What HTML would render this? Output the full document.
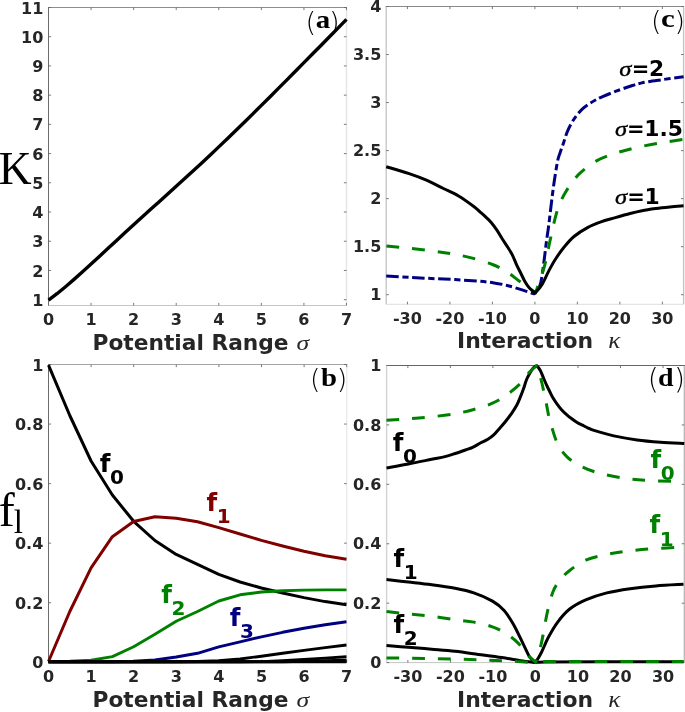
<!DOCTYPE html>
<html><head><meta charset="utf-8"><title>Figure</title>
<style>
html,body{margin:0;padding:0;background:#fff;width:685px;height:712px;overflow:hidden}
svg{display:block}
.t{font-family:'DejaVu Sans', 'Liberation Sans', sans-serif;font-weight:bold;font-size:15.5px;fill:#262626}
.xl{font-family:'DejaVu Sans', 'Liberation Sans', sans-serif;font-weight:bold;font-size:21px;fill:#262626}
.sv{font-family:'Liberation Serif', 'DejaVu Serif', serif;font-style:italic}
.lab{font-family:'DejaVu Sans', 'Liberation Sans', sans-serif;font-weight:bold}
.pl{font-family:'Liberation Serif', 'DejaVu Serif', serif;fill:#000}
.par{font-family:'DejaVu Sans',sans-serif;font-weight:200;fill:#000}
</style></head><body>
<svg width="685" height="712" viewBox="0 0 685 712">
<rect width="685" height="712" fill="#fff"/>
<path d="M48.5 305.5H346.5" stroke="#c5c5c5" stroke-width="1.2" fill="none"/>
<path d="M346.5 7.5V305.5" stroke="#e4e4e4" stroke-width="1.4" fill="none"/>
<path d="M48 7.5H347" stroke="#8e8e8e" stroke-width="1" fill="none"/>
<path d="M48.5 7.5V305.5" stroke="#6b6b6b" stroke-width="1" fill="none"/>
<path d="M48.5 7.5v2.6 M48.5 305.5v-2.6 M91.07 7.5v2.6 M91.07 305.5v-2.6 M133.64 7.5v2.6 M133.64 305.5v-2.6 M176.21 7.5v2.6 M176.21 305.5v-2.6 M218.79 7.5v2.6 M218.79 305.5v-2.6 M261.36 7.5v2.6 M261.36 305.5v-2.6 M303.93 7.5v2.6 M303.93 305.5v-2.6 M346.5 7.5v2.6 M346.5 305.5v-2.6 M48.5 299.66h2.6 M346.5 299.66h-2.6 M48.5 270.44h2.6 M346.5 270.44h-2.6 M48.5 241.23h2.6 M346.5 241.23h-2.6 M48.5 212.01h2.6 M346.5 212.01h-2.6 M48.5 182.79h2.6 M346.5 182.79h-2.6 M48.5 153.58h2.6 M346.5 153.58h-2.6 M48.5 124.36h2.6 M346.5 124.36h-2.6 M48.5 95.15h2.6 M346.5 95.15h-2.6 M48.5 65.93h2.6 M346.5 65.93h-2.6 M48.5 36.72h2.6 M346.5 36.72h-2.6 M48.5 7.5h2.6 M346.5 7.5h-2.6 " stroke="#6a6a6a" stroke-width="0.9" fill="none"/>
<text transform="translate(48.5 325) scale(1.035 1)" text-anchor="middle" class="t">0</text>
<text transform="translate(91.07 325) scale(1.035 1)" text-anchor="middle" class="t">1</text>
<text transform="translate(133.64 325) scale(1.035 1)" text-anchor="middle" class="t">2</text>
<text transform="translate(176.21 325) scale(1.035 1)" text-anchor="middle" class="t">3</text>
<text transform="translate(218.79 325) scale(1.035 1)" text-anchor="middle" class="t">4</text>
<text transform="translate(261.36 325) scale(1.035 1)" text-anchor="middle" class="t">5</text>
<text transform="translate(303.93 325) scale(1.035 1)" text-anchor="middle" class="t">6</text>
<text transform="translate(346.5 325) scale(1.035 1)" text-anchor="middle" class="t">7</text>
<text transform="translate(43.3 305.76) scale(1.035 1)" text-anchor="end" class="t">1</text>
<text transform="translate(43.3 276.54) scale(1.035 1)" text-anchor="end" class="t">2</text>
<text transform="translate(43.3 247.33) scale(1.035 1)" text-anchor="end" class="t">3</text>
<text transform="translate(43.3 218.11) scale(1.035 1)" text-anchor="end" class="t">4</text>
<text transform="translate(43.3 188.89) scale(1.035 1)" text-anchor="end" class="t">5</text>
<text transform="translate(43.3 159.68) scale(1.035 1)" text-anchor="end" class="t">6</text>
<text transform="translate(43.3 130.46) scale(1.035 1)" text-anchor="end" class="t">7</text>
<text transform="translate(43.3 101.25) scale(1.035 1)" text-anchor="end" class="t">8</text>
<text transform="translate(43.3 72.03) scale(1.035 1)" text-anchor="end" class="t">9</text>
<text transform="translate(43.3 42.82) scale(1.035 1)" text-anchor="end" class="t">10</text>
<text transform="translate(43.3 13.6) scale(1.035 1)" text-anchor="end" class="t">11</text>
<path d="M48.5 300.17 L57.01 293.72 L65.53 286.69 L74.04 279.35 L82.56 271.77 L91.07 264.03 L99.59 256.19 L108.1 248.3 L116.61 240.41 L125.13 232.55 L133.64 224.76 L142.16 217.03 L150.67 209.32 L159.19 201.64 L167.7 193.96 L176.21 186.26 L184.73 178.52 L193.24 170.73 L201.76 162.88 L210.27 154.93 L218.79 146.88 L227.3 138.74 L235.81 130.51 L244.33 122.21 L252.84 113.84 L261.36 105.41 L269.87 96.93 L278.39 88.41 L286.9 79.85 L295.41 71.27 L303.93 62.67 L312.44 54.05 L320.96 45.43 L329.47 36.8 L337.99 28.16 L346.5 19.32" stroke="#000" stroke-width="3.4" fill="none" stroke-linejoin="round"/>
<text x="305.51" y="31.39" class="par" font-size="27.37">(</text>
<text x="328.94" y="31.39" class="par" font-size="27.37">)</text>
<text x="315.87" y="27.9" class="pl" font-weight="bold" font-size="25" textLength="14.47" lengthAdjust="spacingAndGlyphs">a</text>
<text x="-1.2" y="183.8" font-family="'Liberation Serif', 'DejaVu Serif', serif" font-size="45.5" fill="#000">K</text>
<text x="92.51" y="350.1" class="xl" textLength="196.05" lengthAdjust="spacingAndGlyphs">Potential Range</text>
<text x="296.6" y="350.1" class="sv" font-size="21" textLength="12.6" lengthAdjust="spacingAndGlyphs" fill="#262626">σ</text>
<path d="M48.5 662.3H346.7" stroke="#c5c5c5" stroke-width="1" fill="none"/>
<path d="M346.7 364.5V662.3" stroke="#ebebeb" stroke-width="1.4" fill="none"/>
<path d="M48 364.5H347.2" stroke="#a5a5a5" stroke-width="1" fill="none"/>
<path d="M48.5 364.5V662.3" stroke="#6b6b6b" stroke-width="1" fill="none"/>
<path d="M48.5 364.5v2.6 M48.5 662.3v-2.6 M91.1 364.5v2.6 M91.1 662.3v-2.6 M133.7 364.5v2.6 M133.7 662.3v-2.6 M176.3 364.5v2.6 M176.3 662.3v-2.6 M218.9 364.5v2.6 M218.9 662.3v-2.6 M261.5 364.5v2.6 M261.5 662.3v-2.6 M304.1 364.5v2.6 M304.1 662.3v-2.6 M346.7 364.5v2.6 M346.7 662.3v-2.6 M48.5 662.3h2.6 M346.7 662.3h-2.6 M48.5 602.74h2.6 M346.7 602.74h-2.6 M48.5 543.18h2.6 M346.7 543.18h-2.6 M48.5 483.62h2.6 M346.7 483.62h-2.6 M48.5 424.06h2.6 M346.7 424.06h-2.6 M48.5 364.5h2.6 M346.7 364.5h-2.6 " stroke="#6a6a6a" stroke-width="0.9" fill="none"/>
<text transform="translate(48.5 682) scale(1.035 1)" text-anchor="middle" class="t">0</text>
<text transform="translate(91.1 682) scale(1.035 1)" text-anchor="middle" class="t">1</text>
<text transform="translate(133.7 682) scale(1.035 1)" text-anchor="middle" class="t">2</text>
<text transform="translate(176.3 682) scale(1.035 1)" text-anchor="middle" class="t">3</text>
<text transform="translate(218.9 682) scale(1.035 1)" text-anchor="middle" class="t">4</text>
<text transform="translate(261.5 682) scale(1.035 1)" text-anchor="middle" class="t">5</text>
<text transform="translate(304.1 682) scale(1.035 1)" text-anchor="middle" class="t">6</text>
<text transform="translate(346.7 682) scale(1.035 1)" text-anchor="middle" class="t">7</text>
<text transform="translate(43.3 668.4) scale(1.035 1)" text-anchor="end" class="t">0</text>
<text transform="translate(43.3 608.84) scale(1.035 1)" text-anchor="end" class="t">0.2</text>
<text transform="translate(43.3 549.28) scale(1.035 1)" text-anchor="end" class="t">0.4</text>
<text transform="translate(43.3 489.72) scale(1.035 1)" text-anchor="end" class="t">0.6</text>
<text transform="translate(43.3 430.16) scale(1.035 1)" text-anchor="end" class="t">0.8</text>
<text transform="translate(43.3 370.6) scale(1.035 1)" text-anchor="end" class="t">1</text>
<path d="M48.5 365.1 L69.79 415.5 L91.07 461 L112.36 495 L133.64 521.3 L154.93 540.5 L176.21 554.4 L197.5 564.3 L218.79 574.4 L240.07 582 L261.36 588 L282.64 593 L303.93 597.6 L325.21 601.6 L346.5 604.8" stroke="#000" stroke-width="3" fill="none" stroke-linejoin="round"/>
<path d="M48.5 661.5 L69.79 611.5 L91.07 567.8 L112.36 536.7 L133.64 521.5 L154.93 516.8 L176.21 518.3 L197.5 521.8 L218.79 527.6 L240.07 534 L261.36 540.4 L282.64 546 L303.93 551.2 L325.21 555.8 L346.5 559.3" stroke="#800000" stroke-width="3" fill="none" stroke-linejoin="round"/>
<path d="M48.5 661.6 L69.79 661.3 L91.07 660.2 L112.36 656.6 L133.64 646.8 L154.93 634.3 L176.21 621.3 L197.5 611.5 L218.79 601 L240.07 594.8 L261.36 592 L282.64 590.7 L303.93 590.1 L325.21 589.9 L346.5 589.9" stroke="#008000" stroke-width="2.9" fill="none" stroke-linejoin="round"/>
<path d="M48.5 661.8 L69.79 661.8 L91.07 661.8 L112.36 661.8 L133.64 661.2 L154.93 660 L176.21 657 L197.5 653.3 L218.79 646.8 L240.07 641.8 L261.36 636.8 L282.64 632.3 L303.93 628.3 L325.21 624.8 L346.5 621.8" stroke="#000080" stroke-width="2.9" fill="none" stroke-linejoin="round"/>
<path d="M48.5 661.8 L69.79 661.8 L91.07 661.8 L112.36 661.8 L133.64 661.8 L154.93 661.8 L176.21 661.8 L197.5 661.5 L218.79 660.8 L240.07 659 L261.36 656.2 L282.64 653.2 L303.93 650.4 L325.21 647.6 L346.5 645" stroke="#000" stroke-width="2.9" fill="none" stroke-linejoin="round"/>
<path d="M48.5 661.8 L69.79 661.8 L91.07 661.8 L112.36 661.8 L133.64 661.8 L154.93 661.8 L176.21 661.8 L197.5 661.8 L218.79 661.8 L240.07 661.8 L261.36 661.6 L282.64 660.6 L303.93 659.4 L325.21 658.1 L346.5 656.8" stroke="#000" stroke-width="2.9" fill="none" stroke-linejoin="round"/>
<path d="M48.5 661.8 L69.79 661.8 L91.07 661.8 L112.36 661.8 L133.64 661.8 L154.93 661.8 L176.21 661.8 L197.5 661.8 L218.79 661.8 L240.07 661.8 L261.36 661.8 L282.64 661.7 L303.93 661.3 L325.21 660.8 L346.5 660.2" stroke="#000" stroke-width="2.9" fill="none" stroke-linejoin="round"/>
<path d="M48.5 661.9 L69.79 661.9 L91.07 661.9 L112.36 661.9 L133.64 661.9 L154.93 661.9 L176.21 661.9 L197.5 661.9 L218.79 661.9 L240.07 661.9 L261.36 661.9 L282.64 661.9 L303.93 661.9 L325.21 661.9 L346.5 661.9" stroke="#000" stroke-width="2.9" fill="none" stroke-linejoin="round"/>
<text x="309.96" y="388.35" class="par" font-size="26.92">(</text>
<text x="336.67" y="388.35" class="par" font-size="26.92">)</text>
<text x="321.03" y="386" class="pl" font-weight="bold" font-size="24.5" textLength="16.03" lengthAdjust="spacingAndGlyphs">b</text>
<text x="99.7" y="471.6" class="lab" fill="#000" font-size="24.5">f<tspan font-size="20" dx="-0.4" dy="12.2">0</tspan></text>
<text x="206.4" y="510.8" class="lab" fill="#800000" font-size="24.5">f<tspan font-size="20" dx="-0.4" dy="12.2">1</tspan></text>
<text x="161.3" y="603" class="lab" fill="#008000" font-size="24.5">f<tspan font-size="20" dx="-0.4" dy="12.2">2</tspan></text>
<text x="229.8" y="625.5" class="lab" fill="#000080" font-size="24.5">f<tspan font-size="20" dx="-0.4" dy="12.2">3</tspan></text>
<text x="-1.2" y="525.7" font-family="'Liberation Serif', 'DejaVu Serif', serif" font-size="48" fill="#000">f<tspan font-size="33" dx="-1" dy="7.3">l</tspan></text>
<text x="92.51" y="706.7" class="xl" textLength="196.05" lengthAdjust="spacingAndGlyphs">Potential Range</text>
<text x="296.6" y="706.7" class="sv" font-size="21" textLength="12.6" lengthAdjust="spacingAndGlyphs" fill="#262626">σ</text>
<path d="M386.2 304.3H683.6" stroke="#e4e4e4" stroke-width="1.2" fill="none"/>
<path d="M683.6 6.5V304.3" stroke="#c5c5c5" stroke-width="1.4" fill="none"/>
<path d="M385.7 6.5H684.1" stroke="#8a8a8a" stroke-width="1" fill="none"/>
<path d="M386.2 6.5V304.3" stroke="#c8c8c8" stroke-width="1.4" fill="none"/>
<path d="M407.44 6.5v2.6 M407.44 304.3v-2.6 M449.93 6.5v2.6 M449.93 304.3v-2.6 M492.41 6.5v2.6 M492.41 304.3v-2.6 M534.9 6.5v2.6 M534.9 304.3v-2.6 M577.39 6.5v2.6 M577.39 304.3v-2.6 M619.87 6.5v2.6 M619.87 304.3v-2.6 M662.36 6.5v2.6 M662.36 304.3v-2.6 M386.2 294.69h2.6 M683.6 294.69h-2.6 M386.2 246.66h2.6 M683.6 246.66h-2.6 M386.2 198.63h2.6 M683.6 198.63h-2.6 M386.2 150.6h2.6 M683.6 150.6h-2.6 M386.2 102.56h2.6 M683.6 102.56h-2.6 M386.2 54.53h2.6 M683.6 54.53h-2.6 M386.2 6.5h2.6 M683.6 6.5h-2.6 " stroke="#6a6a6a" stroke-width="0.9" fill="none"/>
<text transform="translate(407.44 324) scale(1.035 1)" text-anchor="middle" class="t">-30</text>
<text transform="translate(449.93 324) scale(1.035 1)" text-anchor="middle" class="t">-20</text>
<text transform="translate(492.41 324) scale(1.035 1)" text-anchor="middle" class="t">-10</text>
<text transform="translate(534.9 324) scale(1.035 1)" text-anchor="middle" class="t">0</text>
<text transform="translate(577.39 324) scale(1.035 1)" text-anchor="middle" class="t">10</text>
<text transform="translate(619.87 324) scale(1.035 1)" text-anchor="middle" class="t">20</text>
<text transform="translate(662.36 324) scale(1.035 1)" text-anchor="middle" class="t">30</text>
<text transform="translate(381.3 300.29) scale(1.035 1)" text-anchor="end" class="t">1</text>
<text transform="translate(381.3 252.26) scale(1.035 1)" text-anchor="end" class="t">1.5</text>
<text transform="translate(381.3 204.23) scale(1.035 1)" text-anchor="end" class="t">2</text>
<text transform="translate(381.3 156.2) scale(1.035 1)" text-anchor="end" class="t">2.5</text>
<text transform="translate(381.3 108.16) scale(1.035 1)" text-anchor="end" class="t">3</text>
<text transform="translate(381.3 60.13) scale(1.035 1)" text-anchor="end" class="t">3.5</text>
<text transform="translate(381.3 12.1) scale(1.035 1)" text-anchor="end" class="t">4</text>
<path d="M386.2 276.1 C389.9 276.3 400.82 276.9 408.4 277.3 C415.98 277.7 423.92 278.12 431.7 278.5 C439.48 278.88 447.32 279.15 455.1 279.6 C462.88 280.05 471.92 280.65 478.4 281.2 C484.88 281.75 489.05 282.15 494 282.9 C498.95 283.65 503.42 284.53 508.1 285.7 C512.78 286.87 517.78 288.55 522.1 289.9 C526.42 291.25 532.02 293.15 534 293.8 L534 293.8 C535.03 292.27 538.6 289.52 540.2 284.6 C541.8 279.68 542.62 271.05 543.6 264.3 C544.58 257.55 545.25 250.57 546.1 244.1 C546.95 237.63 547.82 232.35 548.7 225.5 C549.58 218.65 550.52 210.08 551.4 203 C552.28 195.92 552.97 190 554 183 C555.03 176 556.57 166.08 557.6 161 C558.63 155.92 559.22 155.5 560.2 152.5 C561.18 149.5 562.37 146.33 563.5 143 C564.63 139.67 565.72 135.73 567 132.5 C568.28 129.27 569.57 126.48 571.2 123.6 C572.83 120.72 574.92 117.67 576.8 115.2 C578.68 112.73 580.62 110.58 582.5 108.8 C584.38 107.02 586 105.92 588.1 104.5 C590.2 103.08 592.77 101.58 595.1 100.3 C597.43 99.02 598.6 98.32 602.1 96.8 C605.6 95.28 611.42 92.97 616.1 91.2 C620.78 89.43 625.92 87.58 630.2 86.2 C634.48 84.82 636.75 83.95 641.8 82.9 C646.85 81.85 653.53 80.92 660.5 79.9 C667.47 78.88 679.75 77.32 683.6 76.8" stroke="#000080" stroke-width="3" fill="none" stroke-linejoin="round" stroke-dasharray="12.5 3.6 6.3 3.6" stroke-dashoffset="0"/>
<path d="M386.5 246 C390.15 246.35 400.87 247.28 408.4 248.1 C415.93 248.92 424.7 250 431.7 250.9 C438.7 251.8 443.78 252.33 450.4 253.5 C457.02 254.67 464.38 256.07 471.4 257.9 C478.42 259.73 486.65 262.23 492.5 264.5 C498.35 266.77 501.83 268.58 506.5 271.5 C511.17 274.42 515.65 278.45 520.5 282 C525.35 285.55 533.08 291 535.6 292.8 L535.6 292.8 C537.08 288.33 542.18 274.27 544.5 266 C546.82 257.73 547.68 251.35 549.5 243.2 C551.32 235.05 553.57 223.97 555.4 217.1 C557.23 210.23 558.73 206.27 560.5 202 C562.27 197.73 564.08 194.75 566 191.5 C567.92 188.25 569.48 185.73 572 182.5 C574.52 179.27 576.87 175.78 581.1 172.1 C585.33 168.42 591.18 163.7 597.4 160.4 C603.62 157.1 611 154.63 618.4 152.3 C625.8 149.97 634 148.08 641.8 146.4 C649.6 144.72 658.25 143.37 665.2 142.2 C672.15 141.03 680.45 139.87 683.5 139.4" stroke="#008000" stroke-width="3" fill="none" stroke-linejoin="round" stroke-dasharray="12.7 13" stroke-dashoffset="0"/>
<path d="M386.2 166.7 C389.9 167.82 401.6 171.12 408.4 173.4 C415.2 175.68 421.17 177.88 427 180.4 C432.83 182.92 438.13 185.9 443.4 188.5 C448.67 191.1 453.53 193 458.6 196 C463.67 199 470.23 203.85 473.8 206.5 C477.37 209.15 478.03 210.17 480 211.9 C481.97 213.63 483.73 215.13 485.6 216.9 C487.47 218.67 489.32 220.28 491.2 222.5 C493.08 224.72 495.02 227.4 496.9 230.2 C498.78 233 500.63 236.37 502.5 239.3 C504.37 242.23 506.47 245.22 508.1 247.8 C509.73 250.38 510.9 252 512.3 254.8 C513.7 257.6 515.1 261.57 516.5 264.6 C517.9 267.63 519.3 270.18 520.7 273 C522.1 275.82 523.48 279.03 524.9 281.5 C526.32 283.97 527.52 285.88 529.2 287.8 C530.88 289.72 534.03 292.13 535 293 L535.2 293 C536.32 291.6 539.65 288.25 541.9 284.6 C544.15 280.95 546.45 275.32 548.7 271.1 C550.95 266.88 552.88 263.23 555.4 259.3 C557.92 255.37 560.7 251.3 563.8 247.5 C566.9 243.7 570.05 239.82 574 236.5 C577.95 233.18 583.02 230.03 587.5 227.6 C591.98 225.17 596.42 223.52 600.9 221.9 C605.38 220.28 609.53 219.3 614.4 217.9 C619.27 216.5 625.5 214.7 630.1 213.5 C634.7 212.3 637.72 211.52 642 210.7 C646.28 209.88 651.13 209.22 655.8 208.6 C660.47 207.98 665.37 207.47 670 207 C674.63 206.53 681.33 206 683.6 205.8" stroke="#000" stroke-width="3" fill="none" stroke-linejoin="round"/>
<text x="650.94" y="29.84" class="par" font-size="27.03">(</text>
<text x="674.44" y="29.84" class="par" font-size="27.03">)</text>
<text x="661.04" y="27.4" class="pl" font-weight="bold" font-size="25" textLength="13.73" lengthAdjust="spacingAndGlyphs">c</text>
<text x="619.17" y="76" class="sv" fill="#000" font-size="20.5" textLength="12.15" lengthAdjust="spacingAndGlyphs" stroke="#000" stroke-width="0.35">σ</text>
<text x="631.77" y="76" class="lab" fill="#000" font-size="21">=</text>
<text x="648.97" y="76" class="lab" fill="#000" font-size="21" textLength="15.2" lengthAdjust="spacingAndGlyphs">2</text>
<text x="614.97" y="135.6" class="sv" fill="#000" font-size="20.5" textLength="12.15" lengthAdjust="spacingAndGlyphs" stroke="#000" stroke-width="0.35">σ</text>
<text x="627.07" y="135.6" class="lab" fill="#000" font-size="21">=</text>
<text x="644.24" y="135.6" class="lab" fill="#000" font-size="21" textLength="38.69" lengthAdjust="spacingAndGlyphs">1.5</text>
<text x="615.07" y="203.5" class="sv" fill="#000" font-size="20.5" textLength="12.15" lengthAdjust="spacingAndGlyphs" stroke="#000" stroke-width="0.35">σ</text>
<text x="627.27" y="203.5" class="lab" fill="#000" font-size="21">=</text>
<text x="644.44" y="203.5" class="lab" fill="#000" font-size="21" textLength="15.2" lengthAdjust="spacingAndGlyphs">1</text>
<text x="456.99" y="348.2" class="xl" textLength="136.22" lengthAdjust="spacingAndGlyphs">Interaction</text>
<text x="608.2" y="348.2" class="sv" font-size="23" textLength="12.2" lengthAdjust="spacingAndGlyphs" fill="#262626">κ</text>
<path d="M386.6 662.6H684.3" stroke="#c5c5c5" stroke-width="1" fill="none"/>
<path d="M684.3 365.5V662.6" stroke="#b0b0b0" stroke-width="1.2" fill="none"/>
<path d="M386.1 365.5H684.8" stroke="#666666" stroke-width="1" fill="none"/>
<path d="M386.6 365.5V662.6" stroke="#d2d2d2" stroke-width="1.4" fill="none"/>
<path d="M407.86 365.5v2.6 M407.86 662.6v-2.6 M450.39 365.5v2.6 M450.39 662.6v-2.6 M492.92 365.5v2.6 M492.92 662.6v-2.6 M535.45 365.5v2.6 M535.45 662.6v-2.6 M577.98 365.5v2.6 M577.98 662.6v-2.6 M620.51 365.5v2.6 M620.51 662.6v-2.6 M663.04 365.5v2.6 M663.04 662.6v-2.6 M386.6 662.6h2.6 M684.3 662.6h-2.6 M386.6 603.18h2.6 M684.3 603.18h-2.6 M386.6 543.76h2.6 M684.3 543.76h-2.6 M386.6 484.34h2.6 M684.3 484.34h-2.6 M386.6 424.92h2.6 M684.3 424.92h-2.6 M386.6 365.5h2.6 M684.3 365.5h-2.6 " stroke="#6a6a6a" stroke-width="0.9" fill="none"/>
<text transform="translate(407.86 682) scale(1.035 1)" text-anchor="middle" class="t">-30</text>
<text transform="translate(450.39 682) scale(1.035 1)" text-anchor="middle" class="t">-20</text>
<text transform="translate(492.92 682) scale(1.035 1)" text-anchor="middle" class="t">-10</text>
<text transform="translate(535.45 682) scale(1.035 1)" text-anchor="middle" class="t">0</text>
<text transform="translate(577.98 682) scale(1.035 1)" text-anchor="middle" class="t">10</text>
<text transform="translate(620.51 682) scale(1.035 1)" text-anchor="middle" class="t">20</text>
<text transform="translate(663.04 682) scale(1.035 1)" text-anchor="middle" class="t">30</text>
<text transform="translate(381.3 668.2) scale(1.035 1)" text-anchor="end" class="t">0</text>
<text transform="translate(381.3 608.78) scale(1.035 1)" text-anchor="end" class="t">0.2</text>
<text transform="translate(381.3 549.36) scale(1.035 1)" text-anchor="end" class="t">0.4</text>
<text transform="translate(381.3 489.94) scale(1.035 1)" text-anchor="end" class="t">0.6</text>
<text transform="translate(381.3 430.52) scale(1.035 1)" text-anchor="end" class="t">0.8</text>
<text transform="translate(381.3 371.1) scale(1.035 1)" text-anchor="end" class="t">1</text>
<path d="M386.5 645.5 C390.15 645.8 400.87 646.68 408.4 647.3 C415.93 647.92 423.92 648.53 431.7 649.2 C439.48 649.87 447.32 650.43 455.1 651.3 C462.88 652.17 470.62 653.35 478.4 654.4 C486.18 655.45 494.78 656.55 501.8 657.6 C508.82 658.65 514.87 659.87 520.5 660.7 C526.13 661.53 533.08 662.28 535.6 662.6 L535.6 662.6 C537.17 662.5 534.27 662.13 545 662 C555.73 661.87 576.92 661.83 600 661.8 C623.08 661.77 669.58 661.8 683.5 661.8" stroke="#000" stroke-width="3" fill="none" stroke-linejoin="round"/>
<path d="M386.5 579.6 C390.15 580 400.87 581.15 408.4 582 C415.93 582.85 423.92 583.65 431.7 584.7 C439.48 585.75 448.08 586.93 455.1 588.3 C462.12 589.67 467.57 590.77 473.8 592.9 C480.03 595.03 487.45 598.18 492.5 601.1 C497.55 604.02 500.6 606.5 504.1 610.4 C507.6 614.3 510.38 619.05 513.5 624.5 C516.62 629.95 520.08 637.65 522.8 643.1 C525.52 648.55 527.67 653.97 529.8 657.2 C531.93 660.43 534.63 661.62 535.6 662.5 L535.6 662.5 C536.57 660.83 539.27 656.7 541.4 652.5 C543.53 648.3 545.68 642.37 548.4 637.3 C551.12 632.23 554.2 626.77 557.7 622.1 C561.2 617.43 564.73 613 569.4 609.3 C574.07 605.6 579.47 602.63 585.7 599.9 C591.93 597.17 599.4 594.77 606.8 592.9 C614.2 591.03 621.93 589.87 630.1 588.7 C638.27 587.53 646.9 586.63 655.8 585.9 C664.7 585.17 678.88 584.57 683.5 584.3" stroke="#000" stroke-width="3" fill="none" stroke-linejoin="round"/>
<path d="M386.5 467.9 C390.15 467.25 400.87 465.43 408.4 464 C415.93 462.57 425.6 460.53 431.7 459.3 C437.8 458.07 441.08 457.57 445 456.6 C448.92 455.63 451.8 454.6 455.2 453.5 C458.6 452.4 462.5 451.02 465.4 450 C468.3 448.98 470.03 448.6 472.6 447.4 C475.17 446.2 478.25 444.17 480.8 442.8 C483.35 441.43 485.7 440.57 487.9 439.2 C490.1 437.83 491.98 436.48 494 434.6 C496.02 432.72 498.02 430.17 500 427.9 C501.98 425.63 503.93 423.47 505.9 421 C507.87 418.53 510 415.72 511.8 413.1 C513.6 410.48 515.23 408.08 516.7 405.3 C518.17 402.52 519.45 399.2 520.6 396.4 C521.75 393.6 522.62 391.28 523.6 388.5 C524.58 385.72 525.52 382.15 526.5 379.7 C527.48 377.25 528.38 375.73 529.5 373.8 C530.62 371.87 532.07 369.4 533.2 368.1 C534.33 366.8 535.12 365.62 536.3 366 C537.48 366.38 539.12 368.43 540.3 370.4 C541.48 372.37 542.35 375.33 543.4 377.8 C544.45 380.27 545.55 382.92 546.6 385.2 C547.65 387.48 548.65 389.4 549.7 391.5 C550.75 393.6 551.67 395.7 552.9 397.8 C554.13 399.9 555.7 402.17 557.1 404.1 C558.5 406.03 559.72 407.65 561.3 409.4 C562.88 411.15 564.85 413.03 566.6 414.6 C568.35 416.17 570.05 417.48 571.8 418.8 C573.55 420.12 575.33 421.43 577.1 422.5 C578.87 423.57 580.65 424.32 582.4 425.2 C584.15 426.08 585.68 426.93 587.6 427.8 C589.52 428.67 589.53 429.05 593.9 430.4 C598.27 431.75 606.6 434.32 613.8 435.9 C621 437.48 629.32 438.85 637.1 439.9 C644.88 440.95 652.63 441.58 660.5 442.2 C668.37 442.82 680.33 443.37 684.3 443.6" stroke="#000" stroke-width="3" fill="none" stroke-linejoin="round"/>
<path d="M386.5 657.9 C397.93 658.08 435.88 658.53 455.1 659 C474.32 659.47 488.38 660.1 501.8 660.7 C515.22 661.3 529.97 662.28 535.6 662.6" stroke="#008000" stroke-width="3" fill="none" stroke-linejoin="round" stroke-dasharray="12.7 13" stroke-dashoffset="0"/>
<path d="M535.6 662.6 C537.17 662.43 534.27 661.78 545 661.6 C555.73 661.42 576.92 661.52 600 661.5 C623.08 661.48 669.58 661.5 683.5 661.5" stroke="#008000" stroke-width="3" fill="none" stroke-linejoin="round" stroke-dasharray="12.7 13" stroke-dashoffset="17.9"/>
<path d="M386.5 611.6 C390.15 612 400.87 613.22 408.4 614 C415.93 614.78 423.92 615.33 431.7 616.3 C439.48 617.27 448.08 618.83 455.1 619.8 C462.12 620.77 467.57 620.93 473.8 622.1 C480.03 623.27 487.05 624.85 492.5 626.8 C497.95 628.75 502.23 631.08 506.5 633.8 C510.77 636.52 514.6 639.6 518.1 643.1 C521.6 646.6 524.58 651.6 527.5 654.8 C530.42 658 534.25 661.05 535.6 662.3 L535.6 662.3 C536.57 659.1 539.47 651.35 541.4 643.1 C543.33 634.85 545.27 621.35 547.2 612.8 C549.13 604.25 550.87 597.25 553 591.8 C555.13 586.35 557.27 583.62 560 580.1 C562.73 576.58 565.12 574.02 569.4 570.7 C573.68 567.38 579.47 562.92 585.7 560.2 C591.93 557.48 599.4 555.95 606.8 554.4 C614.2 552.85 621.93 551.88 630.1 550.9 C638.27 549.92 646.9 549.12 655.8 548.5 C664.7 547.88 678.88 547.42 683.5 547.2" stroke="#008000" stroke-width="3" fill="none" stroke-linejoin="round" stroke-dasharray="12.7 13" stroke-dashoffset="0"/>
<path d="M386.5 420.3 C390.15 420.07 400.87 419.48 408.4 418.9 C415.93 418.32 423.92 417.67 431.7 416.8 C439.48 415.93 448.08 414.92 455.1 413.7 C462.12 412.48 467.57 411.25 473.8 409.5 C480.03 407.75 487.05 405.62 492.5 403.2 C497.95 400.78 501.83 398.3 506.5 395 C511.17 391.7 516.62 387.28 520.5 383.4 C524.38 379.52 527.05 374.67 529.8 371.7 C532.55 368.73 535.8 366.62 537 365.6 L537 365.6 C537.73 368.17 539.9 374.93 541.4 381 C542.9 387.07 544.65 395.5 546 402 C547.35 408.5 548.52 415.72 549.5 420 C550.48 424.28 550.53 423.68 551.9 427.7 C553.27 431.72 555.18 439.23 557.7 444.1 C560.22 448.97 563.1 453.2 567 456.9 C570.9 460.6 575.65 463.57 581.1 466.3 C586.55 469.03 592.7 471.35 599.7 473.3 C606.7 475.25 615.3 476.83 623.1 478 C630.9 479.17 637.93 479.72 646.5 480.3 C655.07 480.88 668.33 481.25 674.5 481.5 C680.67 481.75 682 481.75 683.5 481.8" stroke="#008000" stroke-width="3" fill="none" stroke-linejoin="round" stroke-dasharray="12.7 13" stroke-dashoffset="0"/>
<text x="647.7" y="389.16" class="par" font-size="28.38">(</text>
<text x="673.95" y="389.16" class="par" font-size="28.38">)</text>
<text x="657.97" y="386" class="pl" font-weight="bold" font-size="24.5" textLength="15.55" lengthAdjust="spacingAndGlyphs">d</text>
<text x="392.7" y="451.1" class="lab" fill="#000" font-size="24.5">f<tspan font-size="20" dx="-0.4" dy="12.2">0</tspan></text>
<text x="393.4" y="567.2" class="lab" fill="#000" font-size="24.5">f<tspan font-size="20" dx="-0.4" dy="12.2">1</tspan></text>
<text x="393.4" y="632.6" class="lab" fill="#000" font-size="24.5">f<tspan font-size="20" dx="-0.4" dy="12.2">2</tspan></text>
<text x="650.6" y="467.5" class="lab" fill="#008000" font-size="24.5">f<tspan font-size="20" dx="-0.4" dy="12.2">0</tspan></text>
<text x="649.5" y="533.4" class="lab" fill="#008000" font-size="24.5">f<tspan font-size="20" dx="-0.4" dy="12.2">1</tspan></text>
<text x="456.99" y="707.3" class="xl" textLength="136.22" lengthAdjust="spacingAndGlyphs">Interaction</text>
<text x="608.2" y="707.3" class="sv" font-size="23" textLength="12.2" lengthAdjust="spacingAndGlyphs" fill="#262626">κ</text>
</svg>
</body></html>
